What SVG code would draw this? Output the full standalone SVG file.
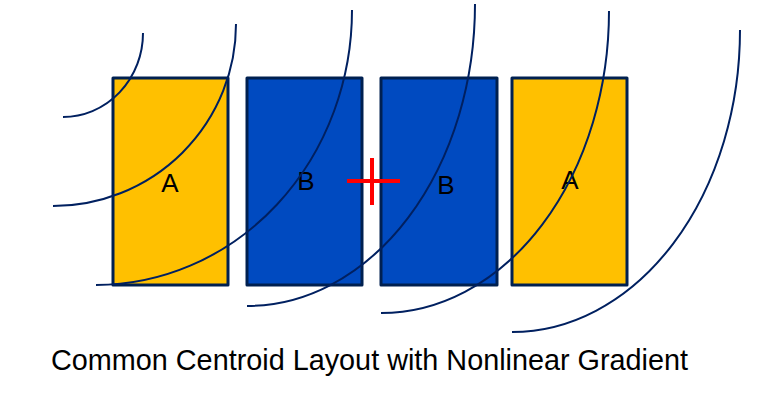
<svg xmlns="http://www.w3.org/2000/svg" width="763" height="408" viewBox="0 0 763 408">
<style>
.ra{fill:#FFC000;stroke:#002050;stroke-width:3;stroke-linejoin:round}
.rb{fill:#004AC0;stroke:#002050;stroke-width:3;stroke-linejoin:round}
.lbl{font-family:"Liberation Sans",Arial,sans-serif;font-size:26px;fill:#000;text-anchor:middle}
.arc{fill:none;stroke:#002060;stroke-width:2}
.cross{stroke:#FF0000;stroke-width:4;fill:none}
</style>
<rect width="763" height="408" fill="#fff"/>
<g id="A1"><rect class="ra" x="113" y="78" width="115" height="207"/><text class="lbl" x="170" y="192">A</text></g>
<g id="B1"><rect class="rb" x="247" y="78" width="115" height="207"/><text class="lbl" x="306" y="190">B</text></g>
<g id="B2"><rect class="rb" x="381" y="78" width="116" height="207"/><text class="lbl" x="446" y="194">B</text></g>
<g id="A2"><rect class="ra" x="512" y="78" width="115" height="207"/><text class="lbl" x="570" y="189">A</text></g>
<g id="gradient">
<path class="arc" d="M63,117 A80,84 0 0 0 143,33"/>
<path class="arc" d="M53,206 A183,182 0 0 0 236,24"/>
<path class="arc" d="M96,285 A256,275 0 0 0 352,10"/>
<path class="arc" d="M247,306 A228,302 0 0 0 475,4"/>
<path class="arc" d="M381,313 A228,302 0 0 0 609,11"/>
<path class="arc" d="M512,332 A228,302 0 0 0 740,30"/>
</g>
<g id="centroid"><path class="cross" d="M347,181 H400 M372,158 V205"/></g>
<text x="51" y="370" font-family="Liberation Sans, Arial, sans-serif" font-size="28.8" fill="#000">Common Centroid Layout with Nonlinear Gradient</text>
</svg>
